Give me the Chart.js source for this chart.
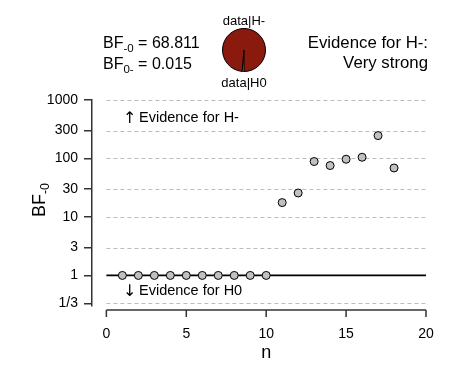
<!DOCTYPE html>
<html>
<head>
<meta charset="utf-8">
<style>
html,body{margin:0;padding:0;background:#fff;}
#wrap{position:relative;width:474px;height:377px;overflow:hidden;}
#main{position:absolute;left:0;top:0;}
#piebox{position:absolute;left:222px;top:28px;width:44px;height:44px;}
</style>
<script src="https://cdn.jsdelivr.net/npm/chart.js@4"></script>
</head>
<body>
<div id="wrap">
  <canvas id="main" width="474" height="377"></canvas>
  <div id="piebox"><canvas id="pie" width="44" height="44"></canvas></div>
</div>
<script>
// ---- data ----
const nValues = [1,2,3,4,5,6,7,8,9,10,11,12,13,14,15,16,17,18];
const bfValues = [1,1,1,1,1,1,1,1,1,1,17.6,25.7,88.7,75.7,97,105,246,68.811];
const yTickValues = [1/3,1,3,10,30,100,300,1000];
const yTickLabels = ['1/3','1','3','10','30','100','300','1000'];
const xTickValues = [0,5,10,15,20];
const pieLabels = ['data|H0','data|H-'];
const pieValues = [1, 68.811];
const bfLines = [['BF','-0',' = 68.811'],['BF','0-',' = 0.015']];
const evidenceText = ['Evidence for H-:','Very strong'];
const annotUp = 'Evidence for H-';
const annotDown = 'Evidence for H0';

const FONT = '"Liberation Sans", Arial, "DejaVu Sans", sans-serif';
const AXC = '#333333';

const overlay = {
  id: 'overlay',
  beforeDatasetsDraw(chart) {
    const ctx = chart.ctx, xs = chart.scales.x, ys = chart.scales.y;
    const x0 = xs.getPixelForValue(0), x1 = xs.getPixelForValue(20);
    ctx.save();
    // dashed grid lines
    ctx.strokeStyle = '#BDBDBD';
    ctx.lineWidth = 1;
    ctx.setLineDash([4,3]);
    yTickValues.forEach(v => {
      if (v === 1) return;
      const y = Math.round(ys.getPixelForValue(v)) + 0.5;
      ctx.beginPath(); ctx.moveTo(x0, y); ctx.lineTo(x1, y); ctx.stroke();
    });
    ctx.setLineDash([]);
    // BF = 1 line
    ctx.strokeStyle = '#000';
    ctx.lineWidth = 1.6;
    const y1 = ys.getPixelForValue(1);
    ctx.beginPath(); ctx.moveTo(x0, y1); ctx.lineTo(x1, y1); ctx.stroke();
    // x axis
    ctx.strokeStyle = AXC;
    ctx.lineWidth = 1.5;
    const ya = 310;
    ctx.beginPath(); ctx.moveTo(x0, ya); ctx.lineTo(x1, ya); ctx.stroke();
    xTickValues.forEach(v => {
      const x = xs.getPixelForValue(v);
      ctx.beginPath(); ctx.moveTo(x, ya); ctx.lineTo(x, ya + 7); ctx.stroke();
    });
    ctx.restore();
  },
  afterDraw(chart) {
    const ctx = chart.ctx, xs = chart.scales.x, ys = chart.scales.y;
    ctx.save();
    ctx.fillStyle = '#000';
    ctx.textBaseline = 'alphabetic';
    // annotations
    const yUp = chart.chartArea.top + 22;
    const yDown = ys.getPixelForValue(1) + 20;
    ctx.textAlign = 'left';
    ctx.font = '16px "DejaVu Sans", sans-serif';
    ctx.fillText('\u2191', 123, yUp + 1);
    ctx.fillText('\u2193', 123, yDown + 1);
    ctx.font = '14.5px ' + FONT;
    ctx.fillText(annotUp, 139, yUp);
    ctx.fillText(annotDown, 139, yDown);
    // x title
    ctx.font = '18px ' + FONT;
    ctx.textAlign = 'center';
    ctx.fillText('n', xs.getPixelForValue(10), 358);
    // y title
    ctx.save();
    ctx.translate(45, 200);
    ctx.rotate(-Math.PI/2);
    ctx.font = '18px ' + FONT;
    const wMain = ctx.measureText('BF').width;
    ctx.font = '12.5px ' + FONT;
    const wSub = ctx.measureText('-0').width;
    const sx = -(wMain + wSub)/2;
    ctx.textAlign = 'left';
    ctx.font = '18px ' + FONT;
    ctx.fillText('BF', sx, 0);
    ctx.font = '12.5px ' + FONT;
    ctx.fillText('-0', sx + wMain, 4);
    ctx.restore();
    // header left
    const baselines = [48, 69];
    bfLines.forEach((parts, i) => {
      let x = 103;
      const b = baselines[i];
      ctx.textAlign = 'left';
      ctx.font = '16px ' + FONT;
      ctx.fillText(parts[0], x, b); x += ctx.measureText(parts[0]).width;
      ctx.font = '11.5px ' + FONT;
      ctx.fillText(parts[1], x, b + 4); x += ctx.measureText(parts[1]).width;
      ctx.font = '16px ' + FONT;
      ctx.fillText(parts[2], x, b);
    });
    // header right
    ctx.textAlign = 'right';
    ctx.font = '16.8px ' + FONT;
    ctx.fillText(evidenceText[0], 428, 48);
    ctx.fillText(evidenceText[1], 428, 68);
    // pie labels
    ctx.textAlign = 'center';
    ctx.font = '13px ' + FONT;
    ctx.fillText(pieLabels[1], 244, 25);
    ctx.fillText(pieLabels[0], 244, 87);
    ctx.restore();
  }
};

new Chart(document.getElementById('main'), {
  type: 'scatter',
  data: {
    datasets: [{
      data: nValues.map((n, i) => ({x: n, y: bfValues[i]})),
      pointRadius: 4,
      pointHoverRadius: 4,
      backgroundColor: '#C0C0C0',
      borderColor: '#000',
      borderWidth: 1
    }]
  },
  options: {
    responsive: false,
    animation: false,
    events: [],
    layout: { padding: { left: 0, right: 48, top: 100, bottom: 0 } },
    plugins: { legend: {display:false}, tooltip: {enabled:false}, title:{display:false} },
    scales: {
      x: {
        type: 'linear', min: -0.9, max: 20,
        afterBuildTicks: s => { s.ticks = xTickValues.map(v => ({value: v})); },
        afterFit: s => { s.height = 71; },
        grid: { display: false, drawTicks: false },
        border: { display: false },
        ticks: { color: '#000', font: { family: FONT, size: 14 }, padding: 20, maxRotation: 0, autoSkip: false }
      },
      y: {
        type: 'logarithmic', min: 1/3, max: 1000,
        afterBuildTicks: s => { s.ticks = yTickValues.map(v => ({value: v})); },
        afterFit: s => { s.width = 92; },
        grid: { drawOnChartArea: false, drawTicks: true, tickLength: 8, color: AXC, lineWidth: 1.5 },
        border: { display: true, color: AXC, width: 1.5 },
        ticks: {
          color: '#000', font: { family: FONT, size: 14 }, padding: 6, autoSkip: false,
          callback: (v) => {
            const i = yTickValues.findIndex(t => Math.abs(t - v) / t < 1e-6);
            return i >= 0 ? yTickLabels[i] : '';
          }
        }
      }
    }
  },
  plugins: [overlay]
});

new Chart(document.getElementById('pie'), {
  type: 'pie',
  data: {
    labels: pieLabels,
    datasets: [{
      data: pieValues,
      backgroundColor: ['#FFFFFF', '#8B1A0E'],
      borderColor: '#000',
      borderWidth: 1
    }]
  },
  options: {
    responsive: false,
    animation: false,
    events: [],
    rotation: 180,
    layout: { padding: 0 },
    plugins: { legend: {display:false}, tooltip: {enabled:false} }
  }
});
</script>
</body>
</html>
